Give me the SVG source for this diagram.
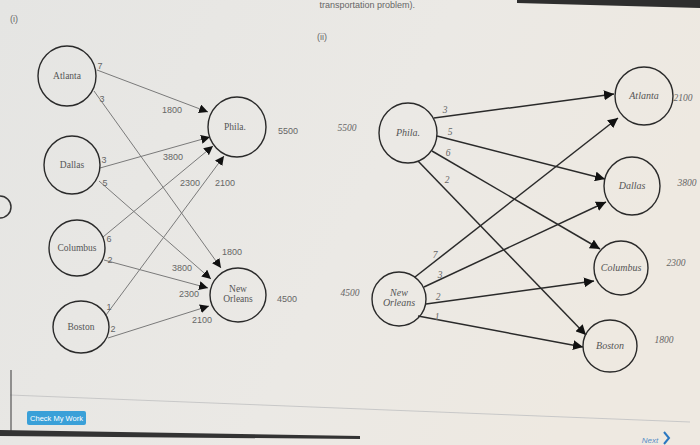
<svg xmlns="http://www.w3.org/2000/svg" width="700" height="445" viewBox="0 0 700 445">
<defs>
<linearGradient id="bg" x1="0" y1="0" x2="1" y2="0.3">
<stop offset="0" stop-color="#e5e5e3"/>
<stop offset="0.6" stop-color="#ebe9e5"/>
<stop offset="1" stop-color="#eee9e1"/>
</linearGradient>
<marker id="ahL" viewBox="0 0 10 10" refX="10" refY="5" markerWidth="9" markerHeight="9" markerUnits="userSpaceOnUse" orient="auto">
<path d="M0,0 L10,5 L0,10 z" fill="#111"/>
</marker>
<marker id="ahR" viewBox="0 0 10 10" refX="10" refY="5" markerWidth="10" markerHeight="10" markerUnits="userSpaceOnUse" orient="auto">
<path d="M0,0 L10,5 L0,10 z" fill="#111"/>
</marker>
</defs>
<style>
.node{fill:none;stroke:#2a2a2a;stroke-width:1.4}
.nl{font-family:"Liberation Serif",serif;font-size:9.5px;fill:#555;text-anchor:middle}
.nr{font-family:"Liberation Serif",serif;font-size:10px;font-style:italic;fill:#555;text-anchor:middle}
.num{font-family:"Liberation Sans",sans-serif;font-size:9px;fill:#666;text-anchor:middle}
.numr{font-family:"Liberation Serif",serif;font-size:9.5px;font-style:italic;fill:#666;text-anchor:middle}
.eL{stroke:#7a7a7a;stroke-width:1;fill:none;marker-end:url(#ahL)}
.eR{stroke:#2a2a2a;stroke-width:1.5;fill:none;marker-end:url(#ahR)}
.hd{font-family:"Liberation Sans",sans-serif;font-size:9px;fill:#666}
</style>
<rect x="0" y="0" width="700" height="445" fill="url(#bg)"/>
<polygon points="517,0 700,0 700,8 517,3" fill="#2e2e2e"/>
<text x="415" y="8" class="hd" text-anchor="end" font-size="10">transportation problem).</text>
<text x="10" y="22" class="hd">(i)</text>
<text x="317" y="40" class="hd">(ii)</text>
<path d="M0,196 A11,11 0 0 1 0,218" fill="none" stroke="#333" stroke-width="1.5"/>
<line x1="10" y1="395" x2="690" y2="422" stroke="#c8c8c8" stroke-width="1"/>
<line x1="11" y1="370" x2="11" y2="432" stroke="#555" stroke-width="1.2"/>
<polygon points="0,430 360,436 360,439 0,436" fill="#333"/>
<rect x="27" y="411" width="59" height="14" rx="2" fill="#3aa0d8"/>
<text x="56.5" y="421" font-family="Liberation Sans, sans-serif" font-size="7.5" fill="#fff" text-anchor="middle">Check My Work</text>
<text x="650" y="443" font-family="Liberation Sans, sans-serif" font-size="8" font-style="italic" fill="#5a8fc8" text-anchor="middle">Next</text>
<path d="M664,432 L669,438 L664,444" fill="none" stroke="#2a77c0" stroke-width="2"/>

<g id="connectors">
<line class="eL" x1="97" y1="70" x2="208" y2="112"/>
<line class="eL" x1="94" y1="91" x2="221" y2="268"/>
<line class="eL" x1="100" y1="168" x2="210" y2="137"/>
<line class="eL" x1="99" y1="181" x2="211" y2="279"/>
<line class="eL" x1="103" y1="237" x2="213" y2="146"/>
<line class="eL" x1="104" y1="260" x2="208" y2="288"/>
<line class="eL" x1="106" y1="315" x2="224" y2="156"/>
<line class="eL" x1="108" y1="338" x2="209" y2="306"/>
<line class="eR" x1="434" y1="118" x2="614" y2="94"/>
<line class="eR" x1="437" y1="136" x2="605" y2="179"/>
<line class="eR" x1="432" y1="151" x2="600" y2="249"/>
<line class="eR" x1="418" y1="161" x2="586" y2="335"/>
<line class="eR" x1="415" y1="277" x2="618" y2="118"/>
<line class="eR" x1="424" y1="287" x2="606" y2="202"/>
<line class="eR" x1="426" y1="304" x2="594" y2="281"/>
<line class="eR" x1="418" y1="316" x2="583" y2="347"/>
</g>

<g id="edge-labels">
<text class="num" x="100" y="69">7</text>
<text class="num" x="102" y="102">3</text>
<text class="num" x="172" y="113">1800</text>
<text class="num" x="173" y="160">3800</text>
<text class="num" x="104" y="163">3</text>
<text class="num" x="105" y="186">5</text>
<text class="num" x="190" y="186">2300</text>
<text class="num" x="225" y="186">2100</text>
<text class="num" x="109" y="242">6</text>
<text class="num" x="110" y="263">2</text>
<text class="num" x="232" y="255">1800</text>
<text class="num" x="182" y="271">3800</text>
<text class="num" x="189" y="297">2300</text>
<text class="num" x="202" y="323">2100</text>
<text class="num" x="109" y="310">1</text>
<text class="num" x="113" y="332">2</text>
<text class="num" x="288" y="134">5500</text>
<text class="num" x="287" y="302">4500</text>
<text class="numr" x="445" y="113">3</text>
<text class="numr" x="450" y="135">5</text>
<text class="numr" x="448" y="156">6</text>
<text class="numr" x="447" y="183">2</text>
<text class="numr" x="435" y="258">7</text>
<text class="numr" x="440" y="278">3</text>
<text class="numr" x="438" y="300">2</text>
<text class="numr" x="437" y="320">1</text>
<text class="numr" x="347" y="131">5500</text>
<text class="numr" x="350" y="296">4500</text>
<text class="numr" x="683" y="101" text-anchor="start" font-size="8.5">2100</text>
<text class="numr" x="687" y="186">3800</text>
<text class="numr" x="676" y="266">2300</text>
<text class="numr" x="664" y="343">1800</text>
</g>

<g id="L-atlanta"><ellipse class="node" cx="67" cy="76" rx="29" ry="30"/><text class="nl" x="67" y="79">Atlanta</text></g>
<g id="L-dallas"><ellipse class="node" cx="72" cy="165" rx="28" ry="29"/><text class="nl" x="72" y="168">Dallas</text></g>
<g id="L-columbus"><ellipse class="node" cx="77" cy="248" rx="28" ry="28"/><text class="nl" x="77" y="251">Columbus</text></g>
<g id="L-boston"><ellipse class="node" cx="81" cy="327" rx="28" ry="26"/><text class="nl" x="81" y="330">Boston</text></g>
<g id="L-phila"><ellipse class="node" cx="237" cy="127" rx="29" ry="30"/><text class="nl" x="235" y="130">Phila.</text></g>
<g id="L-neworleans"><ellipse class="node" cx="238" cy="295" rx="28" ry="27"/><text class="nl" x="238" y="292">New</text><text class="nl" x="238" y="302">Orleans</text></g>

<g id="R-phila"><ellipse class="node" cx="408" cy="133" rx="29" ry="30"/><text class="nr" x="408" y="136">Phila.</text></g>
<g id="R-neworleans"><ellipse class="node" cx="399" cy="299" rx="27" ry="27"/><text class="nr" x="399" y="296">New</text><text class="nr" x="399" y="306">Orleans</text></g>
<g id="R-atlanta"><ellipse class="node" cx="644" cy="96" rx="29" ry="29"/><text class="nr" x="644" y="99">Atlanta</text></g>
<g id="R-dallas"><ellipse class="node" cx="632" cy="186" rx="28" ry="29"/><text class="nr" x="632" y="189">Dallas</text></g>
<g id="R-columbus"><ellipse class="node" cx="621" cy="268" rx="27" ry="27"/><text class="nr" x="621" y="271">Columbus</text></g>
<g id="R-boston"><ellipse class="node" cx="610" cy="346" rx="27" ry="26"/><text class="nr" x="610" y="349">Boston</text></g>
</svg>
